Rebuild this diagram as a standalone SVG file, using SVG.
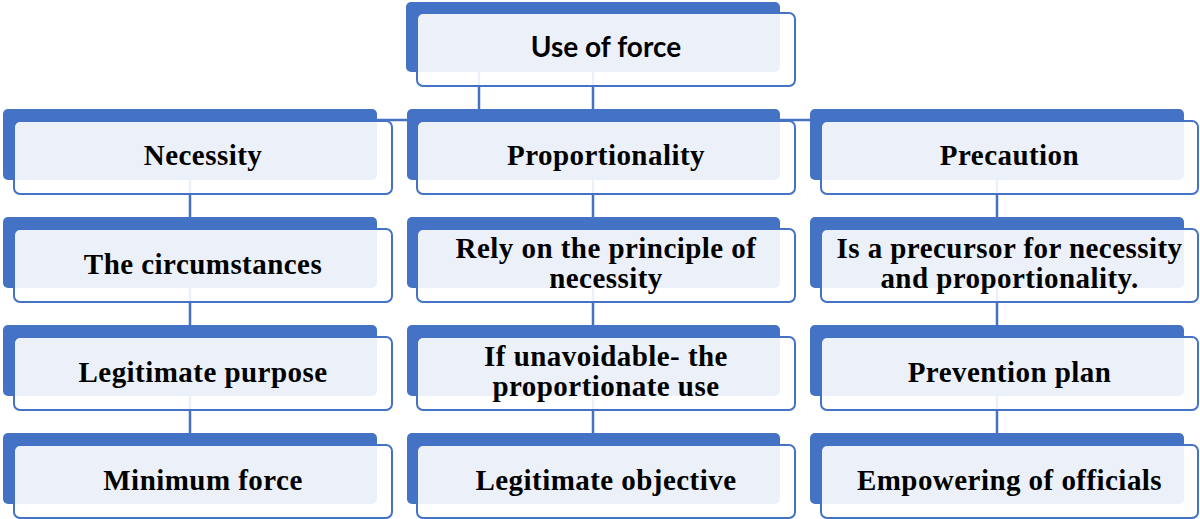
<svg xmlns="http://www.w3.org/2000/svg" width="1200" height="519" viewBox="0 0 1200 519">
<style>
.back{fill:#4472C4;}
.front{fill:#FFFFFF;fill-opacity:0.9;stroke:#4472C4;stroke-width:2;}
.conn{stroke:#4472C4;stroke-width:2.5;fill:none;}
.t{font-family:"Liberation Serif","Times New Roman",serif;font-weight:bold;font-size:29px;letter-spacing:0.45px;fill:#000;text-anchor:middle;}
.ts{font-family:Lato,"Liberation Sans",sans-serif;font-weight:bold;font-size:28px;fill:#000;text-anchor:middle;}
</style>
<rect width="1200" height="519" fill="#FFFFFF"/>
<g id="connectors">
<line class="conn" x1="479" y1="72" x2="479" y2="120"/>
<line class="conn" x1="593" y1="72" x2="593" y2="125"/>
<line class="conn" x1="190" y1="120" x2="997" y2="120"/>
<line class="conn" x1="190" y1="120" x2="190" y2="433"/>
<line class="conn" x1="593" y1="120" x2="593" y2="433"/>
<line class="conn" x1="997" y1="120" x2="997" y2="433"/>
</g>
<g id="n-top">
<rect class="back" x="406" y="2" width="374" height="70" rx="5"/>
<rect class="front" x="417" y="13" width="378" height="73" rx="6"/>
<text class="ts" x="606" y="57">Use of force</text>
</g>
<g id="n-necessity">
<rect class="back" x="3" y="109" width="374" height="71" rx="5"/>
<rect class="front" x="14" y="121" width="378" height="73" rx="6"/>
<text class="t" x="203" y="165">Necessity</text>
</g>
<g id="n-proportionality">
<rect class="back" x="407" y="109" width="373" height="71" rx="5"/>
<rect class="front" x="417" y="121" width="378" height="73" rx="6"/>
<text class="t" x="606" y="165">Proportionality</text>
</g>
<g id="n-precaution">
<rect class="back" x="810" y="109" width="374" height="71" rx="5"/>
<rect class="front" x="821" y="121" width="377" height="73" rx="6"/>
<text class="t" x="1009.5" y="165">Precaution</text>
</g>
<g id="n-circumstances">
<rect class="back" x="3" y="217" width="374" height="71" rx="5"/>
<rect class="front" x="14" y="229" width="378" height="73" rx="6"/>
<text class="t" x="203" y="274">The circumstances</text>
</g>
<g id="n-rely">
<rect class="back" x="407" y="217" width="373" height="71" rx="5"/>
<rect class="front" x="417" y="229" width="378" height="73" rx="6"/>
<text class="t" x="606" y="258">Rely on the principle of</text>
<text class="t" x="606" y="288">necessity</text>
</g>
<g id="n-precursor">
<rect class="back" x="810" y="217" width="374" height="71" rx="5"/>
<rect class="front" x="821" y="229" width="377" height="73" rx="6"/>
<text class="t" x="1009.5" y="258">Is a precursor for necessity</text>
<text class="t" x="1009.5" y="288">and proportionality.</text>
</g>
<g id="n-purpose">
<rect class="back" x="3" y="325" width="374" height="71" rx="5"/>
<rect class="front" x="14" y="337" width="378" height="73" rx="6"/>
<text class="t" x="203" y="382">Legitimate purpose</text>
</g>
<g id="n-unavoidable">
<rect class="back" x="407" y="325" width="373" height="71" rx="5"/>
<rect class="front" x="417" y="337" width="378" height="73" rx="6"/>
<text class="t" x="606" y="366">If unavoidable- the</text>
<text class="t" x="606" y="396">proportionate use</text>
</g>
<g id="n-prevention">
<rect class="back" x="810" y="325" width="374" height="71" rx="5"/>
<rect class="front" x="821" y="337" width="377" height="73" rx="6"/>
<text class="t" x="1009.5" y="382">Prevention plan</text>
</g>
<g id="n-minimum">
<rect class="back" x="3" y="433" width="374" height="71" rx="5"/>
<rect class="front" x="14" y="445" width="378" height="73" rx="6"/>
<text class="t" x="203" y="490">Minimum force</text>
</g>
<g id="n-objective">
<rect class="back" x="407" y="433" width="373" height="71" rx="5"/>
<rect class="front" x="417" y="445" width="378" height="73" rx="6"/>
<text class="t" x="606" y="490">Legitimate objective</text>
</g>
<g id="n-empowering">
<rect class="back" x="810" y="433" width="374" height="71" rx="5"/>
<rect class="front" x="821" y="445" width="377" height="73" rx="6"/>
<text class="t" x="1009.5" y="490">Empowering of officials</text>
</g>
</svg>
